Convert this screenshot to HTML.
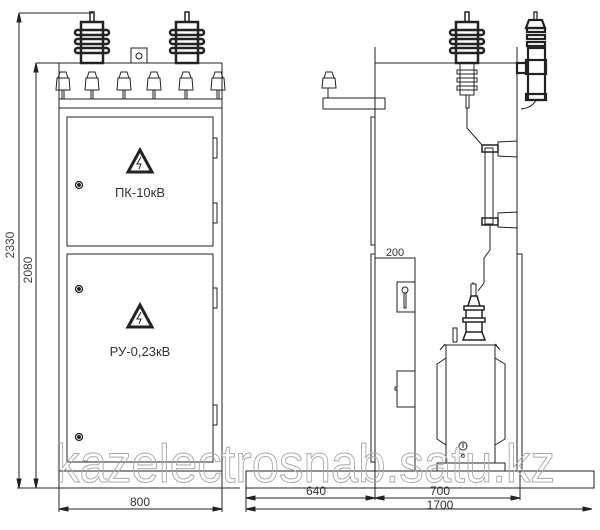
<!DOCTYPE html>
<html><head><meta charset="utf-8"><style>
html,body{margin:0;padding:0;background:#fff}
svg{display:block}
text{font-family:"Liberation Sans","DejaVu Sans",sans-serif}
</style></head><body>
<svg width="600" height="530" viewBox="0 0 600 530" xmlns="http://www.w3.org/2000/svg" fill="none" stroke="#222" stroke-width="1">
<line x1="19" y1="13" x2="93" y2="13"/>
<line x1="19" y1="13" x2="19" y2="488"/>
<polygon points="19,13 17,22 21,22" fill="#222"/>
<polygon points="19,488 17,479 21,479" fill="#222"/>
<line x1="36" y1="63" x2="60" y2="63"/>
<line x1="36" y1="63" x2="36" y2="488"/>
<polygon points="36,63 34,72 38,72" fill="#222"/>
<polygon points="36,488 34,479 38,479" fill="#222"/>
<line x1="17" y1="488" x2="240" y2="488"/>
<text x="14" y="245" transform="rotate(-90 14 245)" fill="#444" stroke="none" font-size="12" text-anchor="middle">2330</text>
<text x="32" y="270" transform="rotate(-90 32 270)" fill="#444" stroke="none" font-size="12" text-anchor="middle">2080</text>
<rect x="59" y="63" width="163" height="408"/>
<line x1="59" y1="99" x2="222" y2="99"/>
<line x1="59" y1="108" x2="222" y2="108"/>
<rect x="59" y="471" width="163" height="17"/>
<rect x="67" y="117" width="146" height="129"/>
<rect x="67" y="254" width="146" height="208"/>
<rect x="213" y="138" width="4" height="20"/>
<rect x="213" y="203" width="4" height="20"/>
<rect x="213" y="288" width="4" height="20"/>
<rect x="213" y="405" width="4" height="20"/>
<g stroke-width="1.3">
<circle cx="79" cy="185" r="3.5"/><circle cx="79" cy="185" r="1.3" fill="#222"/>
<circle cx="79" cy="289" r="3.5"/><circle cx="79" cy="289" r="1.3" fill="#222"/>
<circle cx="79" cy="437" r="3.5"/><circle cx="79" cy="437" r="1.3" fill="#222"/>
</g>
<g stroke-width="1">
<g transform="translate(63,0)"><path d="M-3,72 h6 l2,6 h-10 z M-6,78 h12 l1,12 h-14 z"/><line x1="-1" y1="90" x2="-1" y2="99"/><line x1="1" y1="90" x2="1" y2="99"/></g>
<g transform="translate(92,0)"><path d="M-3,72 h6 l2,6 h-10 z M-6,78 h12 l1,12 h-14 z"/><line x1="-1" y1="90" x2="-1" y2="99"/><line x1="1" y1="90" x2="1" y2="99"/></g>
<g transform="translate(124,0)"><path d="M-3,72 h6 l2,6 h-10 z M-6,78 h12 l1,12 h-14 z"/><line x1="-1" y1="90" x2="-1" y2="99"/><line x1="1" y1="90" x2="1" y2="99"/></g>
<g transform="translate(154,0)"><path d="M-3,72 h6 l2,6 h-10 z M-6,78 h12 l1,12 h-14 z"/><line x1="-1" y1="90" x2="-1" y2="99"/><line x1="1" y1="90" x2="1" y2="99"/></g>
<g transform="translate(186,0)"><path d="M-3,72 h6 l2,6 h-10 z M-6,78 h12 l1,12 h-14 z"/><line x1="-1" y1="90" x2="-1" y2="99"/><line x1="1" y1="90" x2="1" y2="99"/></g>
<g transform="translate(218,0)"><path d="M-3,72 h6 l2,6 h-10 z M-6,78 h12 l1,12 h-14 z"/><line x1="-1" y1="90" x2="-1" y2="99"/><line x1="1" y1="90" x2="1" y2="99"/></g>
</g>
<g stroke-width="2.5">
<g transform="translate(92,0)"><rect x="-2" y="12" width="4" height="10" stroke-width="1.5"/><rect x="-11" y="22" width="22" height="41"/><rect x="-17" y="30" width="34" height="5" rx="2.5"/><rect x="-17" y="39" width="34" height="5" rx="2.5"/><rect x="-17" y="48" width="34" height="5" rx="2.5"/></g>
<g transform="translate(187,0)"><rect x="-2" y="12" width="4" height="10" stroke-width="1.5"/><rect x="-11" y="22" width="22" height="41"/><rect x="-17" y="30" width="34" height="5" rx="2.5"/><rect x="-17" y="39" width="34" height="5" rx="2.5"/><rect x="-17" y="48" width="34" height="5" rx="2.5"/></g>
</g>
<rect x="131" y="48" width="16" height="15"/><circle cx="139" cy="56" r="3"/>
<polygon points="140,150 128,172 152,172" stroke-width="3" stroke-linejoin="miter"/>
<path d="M141,157 l-4,7 h4 l-2,5" stroke-width="1"/>
<polygon points="140,305 128,327 152,327" stroke-width="3"/>
<path d="M141,312 l-4,7 h4 l-2,5" stroke-width="1"/>
<text x="140" y="197" fill="#333" stroke="none" font-size="13" text-anchor="middle">ПК-10кВ</text>
<text x="140" y="356" fill="#333" stroke="none" font-size="13" text-anchor="middle">РУ-0,23кВ</text>
<line x1="59" y1="488" x2="59" y2="512"/><line x1="222" y1="471" x2="222" y2="512"/>
<line x1="59" y1="509" x2="222" y2="509"/>
<polygon points="59,509 68,507 68,511" fill="#222"/><polygon points="222,509 213,507 213,511" fill="#222"/>
<text x="140" y="506" fill="#333" stroke="none" font-size="12" text-anchor="middle">800</text>
<line x1="375" y1="47" x2="375" y2="471"/>
<line x1="517" y1="47" x2="517" y2="471"/>
<line x1="375" y1="63" x2="517" y2="63"/>
<rect x="371" y="117" width="4" height="128"/>
<rect x="371" y="254" width="4" height="208"/>
<rect x="517" y="254" width="5" height="217"/>
<path d="M323,98 h62 v11 h-62 z"/>
<path d="M326,72 h6 l2,6 h-10 z M323,78 h12 l1,10 h-14 z"/><line x1="328" y1="88" x2="328" y2="98"/>
<g stroke-width="2.5"><rect x="465" y="12" width="4" height="10" stroke-width="1.5"/><rect x="456" y="22" width="22" height="41"/><rect x="450" y="30" width="34" height="5" rx="2.5"/><rect x="450" y="39" width="34" height="5" rx="2.5"/><rect x="450" y="48" width="34" height="5" rx="2.5"/></g>
<rect x="460" y="63" width="14" height="32"/><rect x="457" y="70" width="20" height="4"/><rect x="457" y="78" width="20" height="4"/><rect x="457" y="86" width="20" height="4"/>
<rect x="466" y="95" width="3" height="13"/>
<path d="M467,108 v20 l15,17"/>
<rect x="485" y="148" width="8" height="76"/>
<rect x="482" y="145" width="16" height="7" stroke-width="1.5"/><rect x="482" y="218" width="16" height="7" stroke-width="1.5"/>
<path d="M498,142 l19,-1 v16 l-19,-1 z M498,213 l19,-1 v16 l-19,-1 z"/>
<path d="M490,225 v25 l-6,8 v25 l-6,8"/>
<g stroke-width="2.2">
<rect x="534" y="12" width="3" height="8" stroke-width="1.3"/>
<path d="M529,20 h13 l3,8 h-19 z"/>
<rect x="527" y="28" width="18" height="4"/><rect x="527" y="35" width="18" height="4"/><rect x="527" y="42" width="18" height="4"/>
<rect x="528" y="48" width="17" height="52"/>
<rect x="526" y="60" width="20" height="14"/>
<rect x="517" y="63" width="10" height="10"/>
<rect x="526" y="94" width="20" height="6"/>
</g>
<path d="M536,100 q-4,8 -15,9"/>
<rect x="375" y="258" width="40" height="213"/>
<rect x="397" y="282" width="18" height="30"/><circle cx="405" cy="290" r="3"/><rect x="404" y="293" width="2" height="15"/>
<rect x="397" y="371" width="18" height="36"/><rect x="395" y="387" width="2" height="3"/>
<line x1="377" y1="258" x2="408" y2="258"/>
<text x="395" y="256" fill="#333" stroke="none" font-size="11" text-anchor="middle">200</text>
<rect x="446" y="345" width="49" height="118"/>
<path d="M446,358 l-9,6 v75 l9,6 M495,358 l10,6 v75 l-10,6"/>
<path d="M444,345 h53 M440,350 l5,-6 M500,350 l-5,-6"/>
<path d="M463,340 h22 l-3,-8 h-16 z" stroke-width="1.5"/>
<path d="M466,332 v-10 h16 v10 M463,322 h22 v-4 h-22 z M466,318 v-8 h16 v8 M464,310 h20 v-4 h-20 z M468,306 l3,-10 h6 l3,10" stroke-width="1.5"/>
<rect x="471" y="284" width="5" height="12"/><line x1="473" y1="284" x2="473" y2="282"/>
<rect x="453" y="328" width="4" height="14"/>
<circle cx="463" cy="446" r="4"/><line x1="463" y1="443" x2="463" y2="448"/><circle cx="463" cy="456" r="1.5"/>
<rect x="437" y="463" width="68" height="8"/>
<rect x="246" y="471" width="348" height="17"/>
<line x1="246" y1="488" x2="246" y2="512"/><line x1="375" y1="471" x2="375" y2="500"/><line x1="520" y1="471" x2="520" y2="500"/>
<line x1="246" y1="498" x2="520" y2="498"/>
<line x1="246" y1="509" x2="592" y2="509"/>
<polygon points="246,498 255,496 255,500" fill="#222"/><polygon points="375,498 366,496 366,500" fill="#222"/>
<polygon points="375,498 384,496 384,500" fill="#222"/><polygon points="520,498 511,496 511,500" fill="#222"/>
<polygon points="246,509 255,507 255,511" fill="#222"/><polygon points="592,509 583,507 583,511" fill="#222"/>
<text x="316" y="495" fill="#333" stroke="none" font-size="12" text-anchor="middle">640</text>
<text x="440" y="495" fill="#333" stroke="none" font-size="12" text-anchor="middle">700</text>
<text x="440" y="509" fill="#333" stroke="none" font-size="12" text-anchor="middle">1700</text>
<text x="55" y="482" font-size="54" textLength="500" lengthAdjust="spacingAndGlyphs" fill="none" stroke="#aaa" stroke-width="1">kazelectrosnab.satu.kz</text>
</svg>
</body></html>
